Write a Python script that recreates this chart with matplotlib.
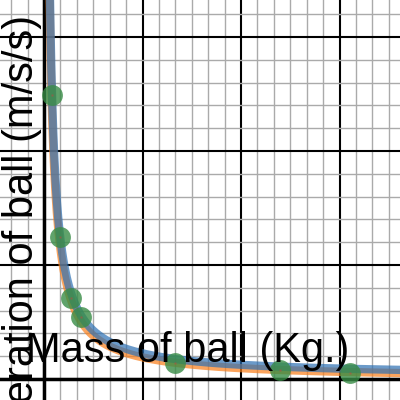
import numpy as np
import matplotlib.pyplot as plt

plt.rcParams['font.family'] = ['Liberation Sans', 'DejaVu Sans']

# measured points (mass, acceleration)
mass = [0.081, 0.162, 0.274, 0.376, 1.33, 2.40, 3.11]
accel = [2.49, 1.25, 0.71, 0.54, 0.14, 0.08, 0.05]

# fitted inverse curves a = k / m + c
k_blue, c_blue = 0.20, 0.025
k_orange, c_orange = 0.19, 0.0

fig = plt.figure(figsize=(4, 4), dpi=100)
ax = fig.add_axes([0, 0, 1, 1])

ax.set_xticks(np.arange(-1, 4, 1 / 6), minor=True)
ax.set_yticks(np.arange(-1, 4, 0.2), minor=True)
ax.set_xticks(np.arange(-1, 5, 1))
ax.set_yticks(np.arange(-1, 5, 1))
ax.grid(which='minor', color='#aaaaaa', lw=1)
ax.grid(which='major', color='black', lw=1.5)
ax.axhline(0, color='black', lw=2.5)
ax.axvline(0, color='black', lw=2.5)
ax.tick_params(which='both', length=0, labelbottom=False, labelleft=False)
for s in ax.spines.values():
    s.set_visible(False)

xs = np.linspace(0.01, 3.7, 800)
ax.plot(xs, k_orange / xs + c_orange, color='#fa7e19', lw=6, alpha=0.7)
ax.plot(xs, k_blue / xs + c_blue, color='#2d70b3', lw=6, alpha=0.7)
ax.plot(mass, accel, 'o', color='#388c46', ms=15, alpha=0.8, mec='none')
ax.plot(mass, accel, 's', color='#c74440', ms=2, alpha=0.5, mec='none')

ax.set_xlim(-0.447, 3.614)
ax.set_ylim(-0.184, 3.325)

fig.text(0.065, 0.095, 'Mass of ball (Kg.)', fontsize=30, color='black')
fig.text(0.005, 0.35, 'Acceleration of ball (m/s/s)', fontsize=30, rotation=90,
         va='center', ha='left', color='black')

fig.savefig('out.png', dpi=100)
